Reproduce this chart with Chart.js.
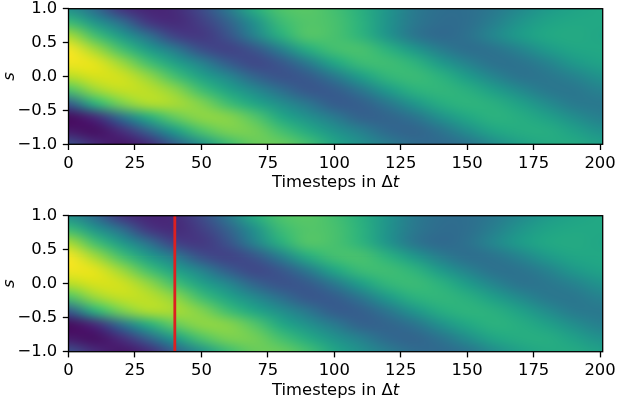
<!DOCTYPE html>
<html>
<head>
<meta charset="utf-8">
<script src="https://cdn.jsdelivr.net/npm/chart.js@4.4.0/dist/chart.umd.min.js"></script>
<style>
  html, body { margin: 0; padding: 0; background: #fff; }
  #wrap { position: relative; width: 617px; height: 400px; }
  canvas { position: absolute; left: 0; }
</style>
</head>
<body>
<div id="wrap">
  <canvas id="topChart" width="617" height="200" style="top:0"></canvas>
  <canvas id="bottomChart" width="617" height="200" style="top:200px"></canvas>
</div>
<script>
// sample grid: timesteps (columns) and s (rows)
const tValues = [0, 10, 20, 30, 40, 50, 60, 70, 80, 90, 100, 110, 120, 130, 140, 150, 160, 170, 180, 190, 200];
const sValues = [1.0, 0.8, 0.6, 0.4, 0.2, 0.0, -0.2, -0.4, -0.6, -0.8, -1.0];

// normalised field values (0 = darkest, 1 = brightest), one array per s row
const rowS10  = [0.50, 0.35, 0.15, 0.10, 0.12, 0.22, 0.40, 0.62, 0.72, 0.74, 0.70, 0.63, 0.52, 0.41, 0.36, 0.36, 0.40, 0.47, 0.54, 0.58, 0.60];
const rowS08  = [0.68, 0.52, 0.36, 0.16, 0.12, 0.18, 0.31, 0.50, 0.68, 0.73, 0.71, 0.64, 0.51, 0.40, 0.35, 0.36, 0.43, 0.52, 0.58, 0.60, 0.60];
const rowS06  = [0.87, 0.70, 0.54, 0.37, 0.19, 0.16, 0.25, 0.44, 0.63, 0.73, 0.71, 0.65, 0.52, 0.39, 0.34, 0.37, 0.46, 0.55, 0.60, 0.61, 0.59];
const rowS04  = [0.99, 0.86, 0.70, 0.55, 0.41, 0.24, 0.19, 0.26, 0.43, 0.62, 0.70, 0.71, 0.64, 0.53, 0.42, 0.36, 0.38, 0.45, 0.54, 0.59, 0.60];
const rowS02  = [0.98, 0.96, 0.85, 0.70, 0.57, 0.44, 0.29, 0.21, 0.27, 0.41, 0.59, 0.68, 0.69, 0.65, 0.54, 0.44, 0.37, 0.38, 0.44, 0.53, 0.58];
const rowS00  = [0.89, 0.94, 0.93, 0.84, 0.70, 0.57, 0.46, 0.32, 0.25, 0.28, 0.40, 0.56, 0.66, 0.68, 0.64, 0.55, 0.45, 0.38, 0.39, 0.44, 0.51];
const rowSm02 = [0.71, 0.85, 0.91, 0.90, 0.83, 0.69, 0.58, 0.47, 0.36, 0.27, 0.29, 0.39, 0.54, 0.64, 0.66, 0.63, 0.56, 0.47, 0.40, 0.39, 0.44];
const rowSm04 = [0.28, 0.64, 0.80, 0.88, 0.87, 0.81, 0.69, 0.59, 0.49, 0.39, 0.29, 0.30, 0.39, 0.52, 0.62, 0.65, 0.63, 0.57, 0.48, 0.41, 0.40];
const rowSm06 = [0.03, 0.12, 0.37, 0.62, 0.76, 0.83, 0.82, 0.73, 0.60, 0.50, 0.41, 0.31, 0.32, 0.38, 0.50, 0.60, 0.64, 0.62, 0.57, 0.49, 0.43];
const rowSm08 = [0.07, 0.04, 0.13, 0.32, 0.55, 0.72, 0.80, 0.79, 0.70, 0.61, 0.51, 0.43, 0.34, 0.32, 0.38, 0.49, 0.59, 0.62, 0.62, 0.57, 0.50];
const rowSm10 = [0.25, 0.12, 0.06, 0.12, 0.30, 0.50, 0.68, 0.77, 0.77, 0.70, 0.59, 0.50, 0.42, 0.35, 0.34, 0.38, 0.48, 0.57, 0.61, 0.61, 0.57];
const fieldRows = [rowS10, rowS08, rowS06, rowS04, rowS02, rowS00, rowSm02, rowSm04, rowSm06, rowSm08, rowSm10];

const xTicks = [0, 25, 50, 75, 100, 125, 150, 175, 200];
const yTicks = [-1.0, -0.5, 0.0, 0.5, 1.0];
const markerT = 40; // red vertical line in the lower panel

// viridis
const viridis = ['#440154', '#471365', '#482475', '#463480', '#414487', '#3b528b', '#355f8d',
  '#2f6c8e', '#2a788e', '#25848e', '#21918c', '#1e9c89', '#22a884', '#2fb47c', '#44bf70',
  '#5ec962', '#7ad151', '#9bd93c', '#bddf26', '#dfe318', '#fde725'];
const viridisRgb = viridis.map(h => [1, 3, 5].map(i => parseInt(h.substr(i, 2), 16)));

function cmap(v) {
  v = Math.max(0, Math.min(1, v));
  const p = v * (viridisRgb.length - 1);
  const i = Math.min(Math.floor(p), viridisRgb.length - 2);
  const f = p - i;
  return viridisRgb[i].map((c, k) => Math.round(c + (viridisRgb[i + 1][k] - c) * f));
}

function buildImage() {
  const off = document.createElement('canvas');
  off.width = tValues.length;
  off.height = sValues.length;
  const octx = off.getContext('2d');
  const img = octx.createImageData(off.width, off.height);
  fieldRows.forEach((row, j) => {
    row.forEach((v, i) => {
      const [r, g, b] = cmap(v);
      const o = (j * off.width + i) * 4;
      img.data[o] = r; img.data[o + 1] = g; img.data[o + 2] = b; img.data[o + 3] = 255;
    });
  });
  octx.putImageData(img, 0, 0);
  return off;
}

const fieldImage = buildImage();
const FONT = '"DejaVu Sans", sans-serif';
const FONT_SIZE = 16.4;

const panelPlugin = {
  id: 'panel',
  beforeDatasetsDraw(chart) {
    const { ctx, chartArea: a, scales: { x, y } } = chart;
    const dt = tValues[1] - tValues[0];
    const ds = sValues[0] - sValues[1];
    const x0 = x.getPixelForValue(tValues[0] - dt / 2);
    const x1 = x.getPixelForValue(tValues[tValues.length - 1] + dt / 2);
    const y0 = y.getPixelForValue(sValues[0] + ds / 2);
    const y1 = y.getPixelForValue(sValues[sValues.length - 1] - ds / 2);
    ctx.save();
    ctx.beginPath();
    ctx.rect(a.left, a.top, a.right - a.left, a.bottom - a.top);
    ctx.clip();
    ctx.imageSmoothingEnabled = true;
    ctx.imageSmoothingQuality = 'high';
    ctx.drawImage(fieldImage, x0, y0, x1 - x0, y1 - y0);
    ctx.restore();
  },
  afterDraw(chart, args, opts) {
    const { ctx, chartArea: a } = chart;
    ctx.save();
    // frame
    ctx.strokeStyle = '#000';
    ctx.lineWidth = 1.3;
    ctx.strokeRect(a.left, a.top, a.right - a.left, a.bottom - a.top);

    // x title: "Timesteps in Δt" with italic t
    ctx.fillStyle = '#000';
    ctx.textBaseline = 'middle';
    ctx.textAlign = 'left';
    const plain = 'Timesteps in \u0394';
    ctx.font = FONT_SIZE + 'px ' + FONT;
    const w1 = ctx.measureText(plain).width;
    ctx.font = 'italic ' + FONT_SIZE + 'px ' + FONT;
    const w2 = ctx.measureText('t').width;
    const cx = (a.left + a.right) / 2;
    const sx = cx - (w1 + w2) / 2;
    ctx.font = FONT_SIZE + 'px ' + FONT;
    ctx.fillText(plain, sx, opts.titleY);
    ctx.font = 'italic ' + FONT_SIZE + 'px ' + FONT;
    ctx.fillText('t', sx + w1, opts.titleY);

    // y title: italic s
    ctx.translate(10, (a.top + a.bottom) / 2);
    ctx.rotate(-Math.PI / 2);
    ctx.textAlign = 'center';
    ctx.fillText('s', 0, 0);
    ctx.restore();
  }
};

function makePanel(id, padTop, xHeight, titleY, withMarker) {
  const datasets = [];
  if (withMarker) {
    datasets.push({
      data: [{ x: markerT, y: yTicks[0] }, { x: markerT, y: yTicks[yTicks.length - 1] }],
      borderColor: '#dd2020',
      borderWidth: 2.8,
      pointRadius: 0,
      fill: false
    });
  }
  const tickFont = { family: FONT, size: FONT_SIZE };
  return new Chart(document.getElementById(id), {
    type: 'line',
    data: { datasets },
    options: {
      responsive: false,
      animation: false,
      devicePixelRatio: 1,
      layout: { padding: { top: padTop, right: 14.3, left: 0, bottom: 0 } },
      plugins: {
        legend: { display: false },
        tooltip: { enabled: false },
        panel: { titleY }
      },
      scales: {
        x: {
          type: 'linear',
          min: 0,
          max: 201,
          afterBuildTicks: s => { s.ticks = xTicks.map(v => ({ value: v })); },
          afterFit: s => { s.height = xHeight; s.paddingLeft = 0; s.paddingRight = 0; },
          grid: { drawOnChartArea: false, drawTicks: true, tickLength: 5.7, color: '#000', tickWidth: 1.3 },
          border: { display: false },
          ticks: { color: '#000', font: tickFont, padding: 4, maxRotation: 0, autoSkip: false }
        },
        y: {
          type: 'linear',
          min: -1,
          max: 1,
          afterBuildTicks: s => { s.ticks = yTicks.map(v => ({ value: v })); },
          afterFit: s => { s.width = 68.5; s.paddingTop = 0; s.paddingBottom = 0; },
          grid: { drawOnChartArea: false, drawTicks: true, tickLength: 5.7, color: '#000', tickWidth: 1.3 },
          border: { display: false },
          ticks: {
            color: '#000', font: tickFont, padding: 5.5, autoSkip: false,
            callback: v => (v < 0 ? '\u2212' : '') + Math.abs(v).toFixed(1)
          }
        }
      }
    },
    plugins: [panelPlugin]
  });
}

makePanel('topChart', 8.7, 55.7, 182.5, false);
makePanel('bottomChart', 15.7, 48.3, 190.5, true);
</script>
</body>
</html>
